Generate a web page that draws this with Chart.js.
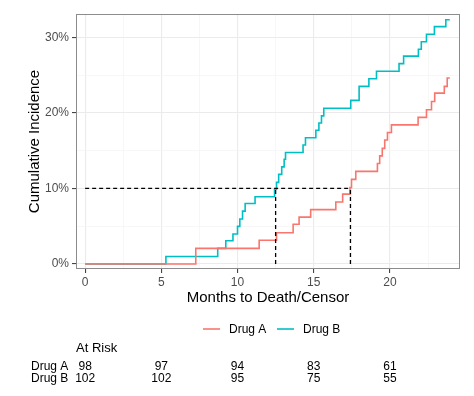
<!DOCTYPE html>
<html>
<head>
<meta charset="utf-8">
<script src="https://cdn.jsdelivr.net/npm/chart.js@4.4.1/dist/chart.umd.min.js"></script>
<style>
html, body { margin: 0; padding: 0; background: #fff; }
</style>
</head>
<body>
<canvas id="myCIFChart" width="474" height="396"></canvas>
<script>
// step data (months, cumulative incidence in %)
var timesA = [0, 7.26, 11.42, 12.56, 13.65, 14.04, 14.8, 16.45, 16.9, 17.38, 17.48, 17.76, 19.18, 19.33, 19.5, 19.66, 19.84, 20.1, 21.85, 22.4, 22.73, 22.94, 23.57, 23.76, 23.93];
var cumA = [0, 2.07, 3.15, 4.14, 5.25, 6.2, 7.2, 8.2, 9.25, 10.1, 11.2, 12.25, 13.3, 14.3, 15.3, 16.4, 17.4, 18.4, 19.4, 20.4, 21.5, 22.6, 23.5, 24.6, 24.6];
var timesB = [0, 5.3, 8.7, 9.23, 9.7, 10.0, 10.15, 10.33, 10.5, 11.15, 12.43, 12.56, 12.7, 12.9, 13.06, 13.15, 14.3, 14.46, 15.14, 15.34, 15.51, 15.66, 17.43, 17.98, 18.62, 19.12, 20.6, 20.9, 21.87, 22.06, 22.4, 22.92, 23.67, 23.93];
var cumB = [0, 1.0, 2.07, 3.08, 3.97, 4.98, 5.95, 7.0, 8.0, 8.9, 9.9, 10.8, 11.85, 12.85, 13.85, 14.75, 15.75, 16.7, 17.7, 18.65, 19.6, 20.6, 21.65, 23.5, 24.5, 25.5, 26.5, 27.5, 28.4, 29.4, 30.4, 31.4, 32.3, 32.3];

var groupNames = ["Drug A", "Drug B"];
var groupColors = ["#F8766D", "#00BFC4"];

var xTicks = [0, 2.5, 5, 7.5, 10, 12.5, 15, 17.5, 20, 22.5];
var yTicks = [0, 5, 10, 15, 20, 25, 30];

// 10% reference line and where each curve crosses it
var refLevel = 10;
var crossA = 17.41;
var crossB = 12.5;

var riskTimes = [0, 5, 10, 15, 20];
var riskA = [98, 97, 94, 83, 61];
var riskB = [102, 102, 95, 75, 55];

function toPoints(t, v) {
    var pts = [];
    for (var i = 0; i < t.length; i++) {
        pts.push({ x: t[i], y: v[i] });
    }
    return pts;
}

var dashStyle = {
    borderColor: '#000',
    borderWidth: 1.3,
    borderDash: [4, 3],
    pointRadius: 0,
    fill: false,
    order: 0
};

const panelAndTable = {
    id: 'panelAndTable',
    beforeDraw(chart) {
        var ctx = chart.ctx;
        ctx.save();
        ctx.fillStyle = '#fff';
        ctx.fillRect(0, 0, chart.width, chart.height);
        ctx.restore();
    },
    afterDraw(chart) {
        var ctx = chart.ctx;
        var a = chart.chartArea;
        var xs = chart.scales.x;
        ctx.save();
        // panel border
        ctx.strokeStyle = '#8c8c8c';
        ctx.lineWidth = 1;
        ctx.strokeRect(a.left + 0.5, a.top + 0.5, a.right - a.left - 1, a.bottom - a.top - 1);

        // legend
        ctx.font = '12px "Liberation Sans", Arial, sans-serif';
        ctx.textBaseline = 'middle';
        ctx.textAlign = 'left';
        var legX = [203, 277];
        for (var i = 0; i < groupNames.length; i++) {
            ctx.strokeStyle = groupColors[i];
            ctx.lineWidth = 1.6;
            ctx.beginPath();
            ctx.moveTo(legX[i], 329);
            ctx.lineTo(legX[i] + 17, 329);
            ctx.stroke();
            ctx.fillStyle = '#000';
            ctx.fillText(groupNames[i], legX[i] + 26, 329.5);
        }

        // at risk table
        ctx.fillStyle = '#000';
        ctx.font = '13px "Liberation Sans", Arial, sans-serif';
        ctx.fillText('At Risk', 76, 348);
        ctx.font = '12px "Liberation Sans", Arial, sans-serif';
        var rows = [riskA, riskB];
        var rowY = [367, 379];
        for (var r = 0; r < rows.length; r++) {
            ctx.textAlign = 'left';
            ctx.fillText(groupNames[r], 31, rowY[r]);
            ctx.textAlign = 'center';
            for (var j = 0; j < riskTimes.length; j++) {
                ctx.fillText(String(rows[r][j]), xs.getPixelForValue(riskTimes[j]), rowY[r]);
            }
        }
        ctx.restore();
    }
};

function isMajor(v) {
    return Math.abs(v % 10) < 1e-6 || Math.abs(v % 5) < 1e-6;
}

var ctx = document.getElementById("myCIFChart");
var myCIFChart = new Chart(ctx, {
    type: 'line',
    data: {
        datasets: [
            Object.assign({ label: 'ref', data: [{ x: 0, y: refLevel }, { x: crossA, y: refLevel }] }, dashStyle),
            Object.assign({ label: 'vA', data: [{ x: crossA, y: 0 }, { x: crossA, y: refLevel }] }, dashStyle),
            Object.assign({ label: 'vB', data: [{ x: crossB, y: 0 }, { x: crossB, y: refLevel }] }, dashStyle),
            {
                label: groupNames[0],
                data: toPoints(timesA, cumA),
                borderColor: groupColors[0],
                borderWidth: 1.6,
                stepped: true,
                pointRadius: 0,
                fill: false,
                order: 1
            },
            {
                label: groupNames[1],
                data: toPoints(timesB, cumB),
                borderColor: groupColors[1],
                borderWidth: 1.6,
                stepped: true,
                pointRadius: 0,
                fill: false,
                order: 1
            }
        ]
    },
    options: {
        responsive: false,
        animation: { duration: 0 },
        layout: { padding: { left: 0, right: 14, top: 14, bottom: 89 } },
        plugins: {
            legend: { display: false },
            tooltip: { enabled: false }
        },
        scales: {
            x: {
                type: 'linear',
                min: -0.6,
                max: 24.6,
                afterBuildTicks: function (scale) {
                    scale.ticks = xTicks.map(function (v) { return { value: v }; });
                },
                afterFit: function (scale) { scale.height = 38; },
                border: { display: false },
                grid: {
                    color: function (c) { return c.tick && c.tick.value % 5 === 0 ? '#ebebeb' : '#f4f4f4'; },
                    lineWidth: function (c) { return c.tick && c.tick.value % 5 === 0 ? 1.1 : 0.7; },
                    tickColor: function (c) { return c.tick && c.tick.value % 5 === 0 ? '#444' : 'rgba(0,0,0,0)'; },
                    tickLength: 4
                },
                ticks: {
                    autoSkip: false,
                    maxRotation: 0,
                    padding: 2,
                    color: '#4d4d4d',
                    font: { family: '"Liberation Sans", Arial, sans-serif', size: 12 },
                    callback: function (v) { return v % 5 === 0 ? String(v) : ''; }
                },
                title: {
                    display: true,
                    text: 'Months to Death/Censor',
                    color: '#000',
                    padding: { top: 0, bottom: 0 },
                    font: { family: '"Liberation Sans", Arial, sans-serif', size: 15 }
                }
            },
            y: {
                type: 'linear',
                min: -0.66,
                max: 33.07,
                afterBuildTicks: function (scale) {
                    scale.ticks = yTicks.map(function (v) { return { value: v }; });
                },
                afterFit: function (scale) { scale.width = 76; },
                border: { display: false },
                grid: {
                    color: function (c) { return c.tick && c.tick.value % 10 === 0 ? '#ebebeb' : '#f4f4f4'; },
                    lineWidth: function (c) { return c.tick && c.tick.value % 10 === 0 ? 1.1 : 0.7; },
                    tickColor: function (c) { return c.tick && c.tick.value % 10 === 0 ? '#444' : 'rgba(0,0,0,0)'; },
                    tickLength: 4
                },
                ticks: {
                    autoSkip: false,
                    padding: 3,
                    color: '#4d4d4d',
                    font: { family: '"Liberation Sans", Arial, sans-serif', size: 12 },
                    callback: function (v) { return v % 10 === 0 ? v + '%' : ''; }
                },
                title: {
                    display: true,
                    text: 'Cumulative Incidence',
                    color: '#000',
                    padding: { top: 26, bottom: 0 },
                    font: { family: '"Liberation Sans", Arial, sans-serif', size: 15 }
                }
            }
        }
    },
    plugins: [panelAndTable]
});
</script>
</body>
</html>
